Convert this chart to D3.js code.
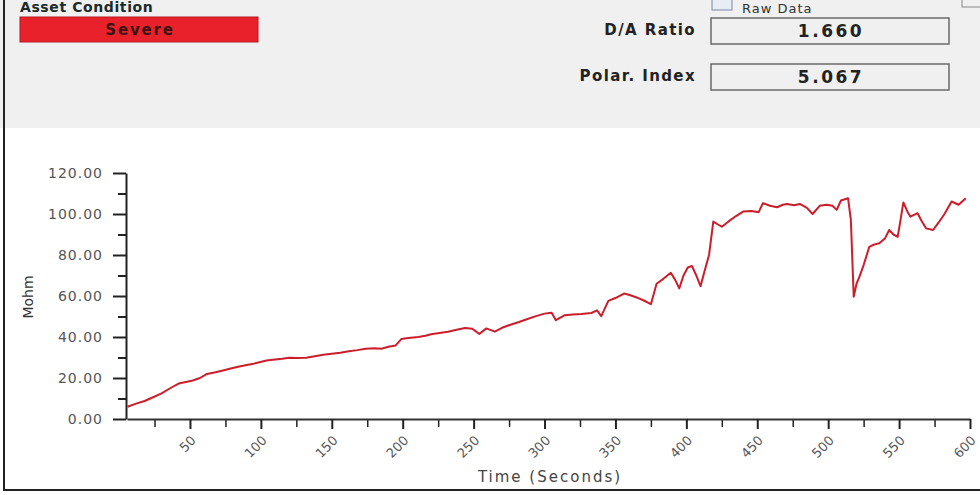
<!DOCTYPE html>
<html>
<head>
<meta charset="utf-8">
<script src="https://cdn.jsdelivr.net/npm/d3@7"></script>
<style>
  body { margin: 0; background: #fff; }
  svg { display: block; font-family: 'DejaVu Sans', Verdana, sans-serif; }
</style>
</head>
<body>
<svg class="chart" width="980" height="495"></svg>
<script>
// readings: seconds and Mohm
const seconds = [6, 12, 18, 24, 30, 36, 42, 48, 52, 57, 62, 68, 74, 78, 84, 90, 95, 99, 104, 110,
  115, 120, 126, 132, 138, 144, 150, 156, 162, 168, 174, 180, 185, 190, 195, 199, 204, 211, 216, 220,
  226, 232, 238, 244, 249, 254, 259, 265, 270, 276, 282, 288, 294, 300, 305, 308, 314, 320, 326, 333,
  337, 340, 345, 350, 356, 360, 365, 370, 375, 379, 384, 389, 392, 395, 398, 401, 404, 407, 410, 413,
  416, 419, 422, 425, 430, 435, 440, 446, 451, 454, 459, 464, 468, 471, 476, 480, 485, 489, 494, 499,
  503, 506, 509, 514, 516, 518, 520, 522, 525, 529, 532, 536, 540, 543, 546, 549, 551, 553, 556, 558,
  563, 566, 569, 574, 578, 582, 587, 592, 597]
const mohm = [6.0, 7.5, 8.8, 10.6, 12.5, 15.0, 17.3, 18.2, 18.8, 20.0, 22.0, 22.8, 23.8, 24.5, 25.5, 26.3, 27.0, 27.7, 28.5, 29.0,
  29.4, 29.9, 29.8, 29.9, 30.6, 31.3, 31.8, 32.3, 33.0, 33.6, 34.3, 34.5, 34.3, 35.2, 35.9, 39.0, 39.5, 40.0, 40.6, 41.3,
  42.0, 42.6, 43.5, 44.4, 44.0, 41.5, 44.2, 42.6, 44.5, 46.0, 47.3, 48.8, 50.2, 51.4, 51.8, 48.2, 50.6, 51.0, 51.2, 51.7,
  53.0, 50.2, 57.6, 59.0, 61.2, 60.5, 59.3, 57.8, 56.0, 66.0, 68.5, 71.3, 68.0, 63.7, 70.0, 73.9, 74.6, 70.0, 64.8, 72.6,
  80.0, 96.3, 95.0, 93.8, 96.5, 99.0, 101.2, 101.5, 100.9, 105.3, 104.0, 103.3, 104.5, 104.9, 104.3, 104.9, 103.0, 100.0, 104.0, 104.5,
  104.0, 102.0, 106.6, 107.7, 97.1, 59.6, 66.0, 69.3, 75.1, 84.0, 85.0, 85.7, 88.0, 92.2, 90.0, 88.9, 97.0, 105.6, 101.0, 98.7,
  100.4, 96.5, 93.0, 92.2, 96.0, 100.0, 106.1, 104.5, 107.7]

const xTicks = [50, 100, 150, 200, 250, 300, 350, 400, 450, 500, 550, 600]
const xMinor = [25, 75, 125, 175, 225, 275, 325, 375, 425, 475, 525, 575]
const yTicks = [0, 20, 40, 60, 80, 100, 120]
const yMinor = [10, 30, 50, 70, 90, 110]

const conditionLabel = 'Severe'
const daRatio = '1.660'
const polarIndex = '5.067'

const width = 980
const plot = { left: 126, right: 970, top: 173, bottom: 419 }

const svg = d3.select('.chart')

// top panel
svg.append('rect').attr('x', 0).attr('y', 0).attr('width', width).attr('height', 128).attr('fill', '#f0f0f0')

svg.append('text')
  .attr('x', 20).attr('y', 12)
  .attr('font-size', 14).attr('font-weight', 'bold').attr('letter-spacing', 0.6).attr('fill', '#1b2a2a')
  .text('Asset Condition')

svg.append('rect')
  .attr('x', 20).attr('y', 17).attr('width', 238).attr('height', 25)
  .attr('fill', '#e8212a').attr('stroke', '#b41a20').attr('stroke-width', 1)
svg.append('text')
  .attr('x', 140).attr('y', 35)
  .attr('text-anchor', 'middle').attr('font-size', 15).attr('font-weight', 'bold')
  .attr('letter-spacing', 1.8).attr('fill', '#3a1212')
  .text(conditionLabel)

// raw data checkbox at the top edge
svg.append('rect').attr('x', 712).attr('y', -4).attr('width', 20).attr('height', 14)
  .attr('fill', '#e8ecf4').attr('stroke', '#7a88a8')
svg.append('text').attr('x', 742).attr('y', 13).attr('font-size', 13).attr('letter-spacing', 1)
  .attr('fill', '#333').text('Raw Data')
svg.append('rect').attr('x', 962).attr('y', -8).attr('width', 24).attr('height', 15)
  .attr('fill', '#f0f0f0').attr('stroke', '#888')

const boxes = [
  { label: 'D/A Ratio', value: daRatio, y: 18 },
  { label: 'Polar. Index', value: polarIndex, y: 64 }
]
boxes.forEach(b => {
  svg.append('text')
    .attr('x', 696).attr('y', b.y + 17)
    .attr('text-anchor', 'end').attr('font-size', 15).attr('font-weight', 'bold')
    .attr('letter-spacing', 1.4).attr('fill', '#222')
    .text(b.label)
  svg.append('rect')
    .attr('x', 711).attr('y', b.y).attr('width', 238).attr('height', 26)
    .attr('fill', '#f0f0f0').attr('stroke', '#6a6a6a').attr('stroke-width', 1.5)
  svg.append('text')
    .attr('x', 831).attr('y', b.y + 19)
    .attr('text-anchor', 'middle').attr('font-size', 17).attr('font-weight', 'bold')
    .attr('letter-spacing', 2.5).attr('fill', '#222')
    .text(b.value)
})

// frame lines
svg.append('line').attr('x1', 4).attr('x2', 4).attr('y1', 0).attr('y2', 491)
  .attr('stroke', '#222').attr('stroke-width', 2)
svg.append('line').attr('x1', 3).attr('x2', width).attr('y1', 490).attr('y2', 490)
  .attr('stroke', '#222').attr('stroke-width', 2)

// scales
const x = d3.scaleLinear().domain([5.6, 600]).range([plot.left + 1, plot.right])
const y = d3.scaleLinear().domain([0, 120]).range([plot.bottom, plot.top])

// x axis
const gx = svg.append('g').attr('transform', `translate(0,${plot.bottom})`)
gx.append('g')
  .call(d3.axisBottom(x).tickValues(xMinor).tickSize(8).tickFormat(''))
  .call(g => g.select('.domain').remove())
  .call(g => g.selectAll('.tick line').attr('stroke', '#222').attr('stroke-width', 1.5))
gx.append('g')
  .call(d3.axisBottom(x).tickValues(xTicks).tickSize(10).tickSizeOuter(0).tickFormat(d3.format('d')))
  .call(g => g.select('.domain').attr('stroke', '#333').attr('stroke-width', 2))
  .call(g => g.selectAll('.tick line').attr('stroke', '#222').attr('stroke-width', 2))
  .call(g => g.selectAll('.tick text')
    .attr('font-family', "'DejaVu Sans', Verdana, sans-serif")
    .attr('font-size', 13).attr('fill', '#555')
    .attr('text-anchor', 'end')
    .attr('x', 3).attr('y', 19).attr('dy', '0.35em')
    .attr('transform', 'rotate(-45 3 19)'))

svg.append('text')
  .attr('x', 550).attr('y', 482)
  .attr('text-anchor', 'middle').attr('font-size', 15).attr('letter-spacing', 2).attr('fill', '#444')
  .text('Time (Seconds)')

// y axis
const gy = svg.append('g').attr('transform', `translate(${plot.left},0)`)
gy.append('g')
  .call(d3.axisLeft(y).tickValues(yMinor).tickSize(8).tickFormat(''))
  .call(g => g.select('.domain').remove())
  .call(g => g.selectAll('.tick line').attr('stroke', '#222').attr('stroke-width', 2))
gy.append('g')
  .call(d3.axisLeft(y).tickValues(yTicks).tickSize(13).tickSizeOuter(0).tickPadding(10).tickFormat(d3.format('.2f')))
  .call(g => g.select('.domain').attr('stroke', '#222').attr('stroke-width', 2))
  .call(g => g.selectAll('.tick line').attr('stroke', '#222').attr('stroke-width', 2))
  .call(g => g.selectAll('.tick text')
    .attr('font-family', "'DejaVu Sans', Verdana, sans-serif")
    .attr('font-size', 14).attr('letter-spacing', 1).attr('fill', '#555'))

svg.append('text')
  .attr('transform', 'translate(33,297) rotate(-90)')
  .attr('text-anchor', 'middle').attr('font-size', 14).attr('fill', '#333')
  .text('Mohm')

// trace
const data = seconds.map((t, i) => ({ t, v: mohm[i] }))
const line = d3.line().x(d => x(d.t)).y(d => y(d.v))
svg.append('path')
  .datum(data)
  .attr('fill', 'none')
  .attr('stroke', '#cc1e2a')
  .attr('stroke-width', 2)
  .attr('stroke-linejoin', 'round')
  .attr('d', line)
</script>
</body>
</html>
